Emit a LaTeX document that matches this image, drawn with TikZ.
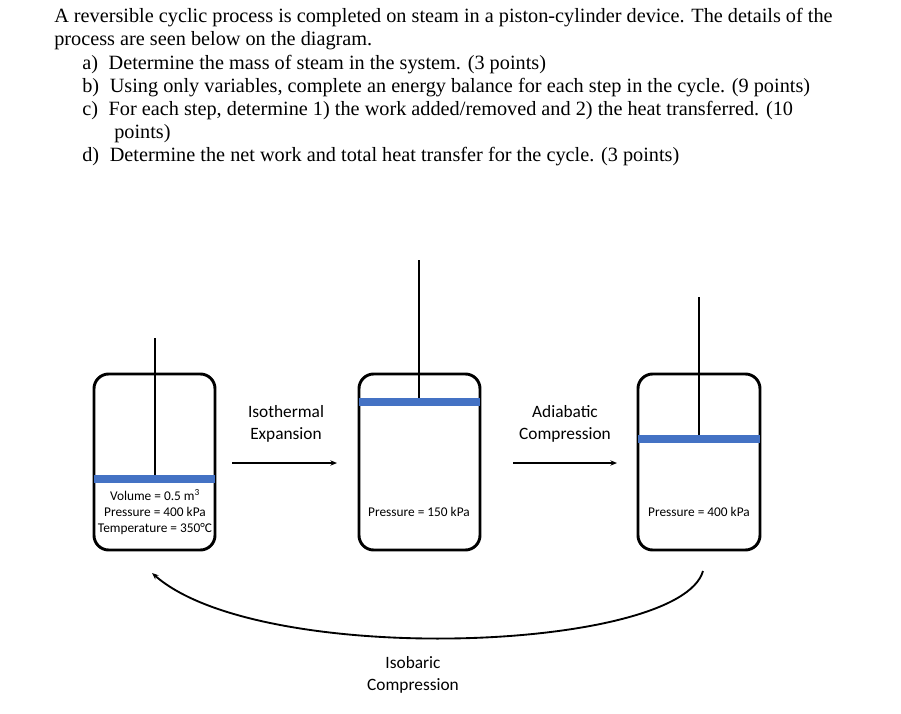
\documentclass[tikz,border=0pt]{standalone}
\usepackage{fontspec}
\setmainfont{Liberation Serif}
\newfontfamily\calfont{Carlito}
\usetikzlibrary{arrows.meta}
\begin{document}
\begin{tikzpicture}[x=0.75pt,y=-0.75pt,
  cyl/.style={line width=2.2pt,rounded corners=11pt},
  rod/.style={line width=2.2pt},
  piston/.style={line width=6pt,draw={rgb,255:red,68;green,114;blue,196}},
  hdr/.style={anchor=west,inner sep=0pt,font=\fontsize{15.2}{17}\selectfont},
  lbl/.style={align=center,font=\calfont\fontsize{13}{16.5}\selectfont},
  small/.style={align=center,inner sep=0pt,font=\calfont\fontsize{10}{12}\selectfont},
  arr/.style={line width=1pt,-{Stealth[length=5pt,width=4pt]}}]
\useasboundingbox (0,0) rectangle (901,714);
\node[hdr] (h1) at (54,18) {A reversible cyclic process is completed on steam in a piston-cylinder device. The details of the};
\node[hdr] (h2) at (54,41) {process are seen below on the diagram.};
\node[hdr] (a) at (82,65) {a)\hspace{8pt}Determine the mass of steam in the system. (3 points)};
\node[hdr] (b) at (82,88) {b)\hspace{8pt}Using only variables, complete an energy balance for each step in the cycle. (9 points)};
\node[hdr,text width=563pt,align=justify] (c1) at (82,111) {\parfillskip=0pt c)\hspace{8pt}For each step, determine 1) the work added/removed and 2) the heat transferred. (10};
\node[hdr] (c2) at (114,134) {points)};
\node[hdr] (d) at (82,157) {d)\hspace{8pt}Determine the net work and total heat transfer for the cycle. (3 points)};
% cylinders
\draw[cyl] (94,374) rectangle (215,550);
\draw[cyl] (359,374) rectangle (480,550);
\draw[cyl] (638,374) rectangle (760,550);
\draw[rod] (155,338) -- (155,479);
\draw[rod] (419,260) -- (419,402);
\draw[rod] (699,297) -- (699,439);
\draw[piston] (94,479) -- (215,479);
\draw[piston] (359,402) -- (480,402);
\draw[piston] (638,439) -- (760,439);
\node[small] (t1) at (155,512) {Volume = 0.5 m\textsuperscript{3}\\Pressure = 400 kPa\\Temperature = 350°C};
\node[small] (t2) at (419,512) {Pressure = 150 kPa};
\node[small] (t3) at (699,512) {Pressure = 400 kPa};
\node[lbl] (l1) at (286,424) {Isothermal\\Expansion};
\node[lbl] (l2) at (565,424) {Adiabatic\\Compression};
\node[lbl] (l3) at (413,675) {Isobaric\\Compression};
\coordinate (a1s) at (232,463); \coordinate (a1e) at (337,463);
\coordinate (a2s) at (513,463); \coordinate (a2e) at (617,463);
\draw[arr] (a1s) -- (a1e);
\draw[arr] (a2s) -- (a2e);
\coordinate (cs) at (703,571); \coordinate (ce) at (152,573);
\draw[arr,line width=1.4pt] (cs) .. controls (680,652) and (260,668) .. (ce);
\end{tikzpicture}
\end{document}
